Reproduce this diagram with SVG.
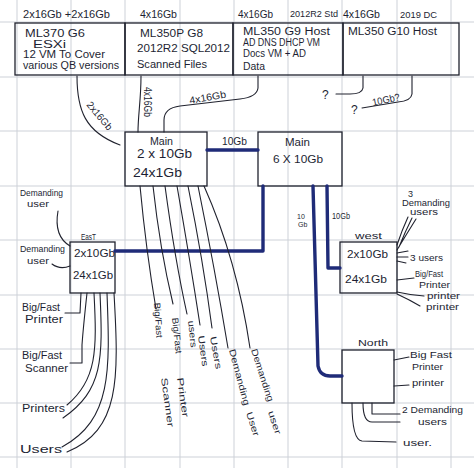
<svg xmlns="http://www.w3.org/2000/svg" width="474" height="468" viewBox="0 0 474 468">
<style>
.grid{stroke:#cdd1d8;stroke-width:1;fill:none}
.box{fill:none;stroke:#20222e;stroke-width:1.3}
.ln{fill:none;stroke:#20222e;stroke-width:1.1;stroke-linecap:round;stroke-linejoin:round}
.thick{fill:none;stroke:#1f2b78;stroke-width:3.4;stroke-linecap:round;stroke-linejoin:round}
text{font-family:"Liberation Sans",Arial,sans-serif;fill:#1d1f33}
.s9{font-size:9px}.s10{font-size:10px}.s11{font-size:11px}.s12{font-size:12px}
</style>
<rect width="474" height="468" fill="#ffffff"/>
<g id="grid" class="grid">
<path d="M17,0V468M71,0V468M125,0V468M180,0V468M234,0V468M288,0V468M342,0V468M397,0V468M451,0V468"/>
<path d="M0,22H474M0,77H474M0,131H474M0,186H474M0,240H474M0,295H474M0,349H474M0,403H474M0,457H474"/>
</g>

<g id="server-ml370">
<text class="s11" x="23" y="18" textLength="87" lengthAdjust="spacingAndGlyphs">2x16Gb +2x16Gb</text>
<rect class="box" x="15" y="23" width="110" height="52"/>
<text class="s11" x="25" y="37" textLength="60" lengthAdjust="spacingAndGlyphs">ML370 G6</text>
<text class="s11" x="33" y="48" textLength="33" lengthAdjust="spacingAndGlyphs">ESXi</text>
<text class="s10" x="23" y="58" textLength="82" lengthAdjust="spacingAndGlyphs">12 VM To Cover</text>
<text class="s10" x="23" y="69" textLength="96" lengthAdjust="spacingAndGlyphs">various QB versions</text>
</g>
<g id="server-ml350p">
<text class="s11" x="140" y="18" textLength="37" lengthAdjust="spacingAndGlyphs">4x16Gb</text>
<rect class="box" x="125" y="23" width="108" height="52"/>
<text class="s11" x="140" y="37" textLength="63" lengthAdjust="spacingAndGlyphs">ML350P G8</text>
<text class="s11" x="137" y="52" textLength="93" lengthAdjust="spacingAndGlyphs">2012R2 SQL2012</text>
<text class="s10" x="137" y="68" textLength="70" lengthAdjust="spacingAndGlyphs">Scanned Files</text>
</g>
<g id="server-ml350g9">
<text class="s11" x="238" y="18" textLength="35" lengthAdjust="spacingAndGlyphs">4x16Gb</text>
<text class="s9" x="290" y="17" textLength="48" lengthAdjust="spacingAndGlyphs">2012R2 Std</text>
<rect class="box" x="233" y="23" width="110" height="52"/>
<text class="s10" x="243" y="35" textLength="87" lengthAdjust="spacingAndGlyphs">ML350 G9 Host</text>
<text class="s10" x="243" y="46" textLength="77" lengthAdjust="spacingAndGlyphs">AD DNS DHCP VM</text>
<text class="s10" x="243" y="57" textLength="63" lengthAdjust="spacingAndGlyphs">Docs VM + AD</text>
<text class="s10" x="243" y="70" textLength="22" lengthAdjust="spacingAndGlyphs">Data</text>
</g>
<g id="server-ml350g10">
<text class="s11" x="343" y="18" textLength="37" lengthAdjust="spacingAndGlyphs">4x16Gb</text>
<text class="s9" x="400" y="18" textLength="37" lengthAdjust="spacingAndGlyphs">2019 DC</text>
<rect class="box" x="343" y="23" width="116" height="52"/>
<text class="s10" x="348" y="35" textLength="89" lengthAdjust="spacingAndGlyphs">ML350 G10 Host</text>
</g>

<g id="main-left">
<rect class="box" x="125" y="132" width="82" height="54"/>
<text class="s10" x="150" y="145" textLength="23" lengthAdjust="spacingAndGlyphs">Main</text>
<text class="s12" x="137" y="158" textLength="55" lengthAdjust="spacingAndGlyphs">2 x 10Gb</text>
<text class="s12" x="133" y="177" textLength="49" lengthAdjust="spacingAndGlyphs">24x1Gb</text>
</g>
<g id="main-right">
<rect class="box" x="258" y="132" width="84" height="54"/>
<text class="s10" x="285" y="146" textLength="25" lengthAdjust="spacingAndGlyphs">Main</text>
<text class="s11" x="273" y="163" textLength="50" lengthAdjust="spacingAndGlyphs">6 X 10Gb</text>
</g>
<g id="east">
<text class="s9" x="81" y="240" textLength="15" lengthAdjust="spacingAndGlyphs">EasT</text>
<rect class="box" x="70" y="242" width="45" height="51"/>
<text class="s11" x="74" y="257" textLength="41" lengthAdjust="spacingAndGlyphs">2x10Gb</text>
<text class="s11" x="73" y="279" textLength="40" lengthAdjust="spacingAndGlyphs">24x1Gb</text>
</g>
<g id="west">
<text class="s9" x="355" y="239" textLength="27" lengthAdjust="spacingAndGlyphs">west</text>
<rect class="box" x="340" y="242" width="57" height="51"/>
<text class="s11" x="347" y="258" textLength="41" lengthAdjust="spacingAndGlyphs">2x10Gb</text>
<text class="s11" x="345" y="283" textLength="42" lengthAdjust="spacingAndGlyphs">24x1Gb</text>
</g>
<g id="north">
<text class="s9" x="358" y="346" textLength="30" lengthAdjust="spacingAndGlyphs">North</text>
<rect class="box" x="342" y="350" width="52" height="53"/>
</g>

<g id="connectors">
<path class="thick" d="M207,150H258"/>
<path class="thick" d="M263,186V251H115"/>
<path class="thick" d="M327,186L328,268H340"/>
<path class="thick" d="M313,186L318,366Q320,376 330,376H342"/>
<path class="ln" d="M77,76C77,110 85,132 120,145"/>
<path class="ln" d="M141,76C141,100 138,115 138,132"/>
<path class="ln" d="M258,76V88Q257,97 240,99L180,106Q164,108 164,120V132"/>
<path class="ln" d="M363,76V88Q362,94 350,94H336"/>
<path class="ln" d="M412,76V94Q411,101 398,102L362,108"/>
<path class="ln" d="M140,186Q146,250 156,309"/>
<path class="ln" d="M153,186Q160,250 173,304"/>
<path class="ln" d="M165,186Q175,260 187,314"/>
<path class="ln" d="M177,186Q190,260 200,325"/>
<path class="ln" d="M188,186Q203,260 212,328"/>
<path class="ln" d="M198,186Q215,270 228,348"/>
<path class="ln" d="M204,186Q237,260 250,348"/>
<path class="ln" d="M58,211C55,228 60,240 70,246"/>
<path class="ln" d="M52,264Q60,270 70,266"/>
<path class="ln" d="M81,293L80,313H65"/>
<path class="ln" d="M87,293Q83,330 82,345V363H70"/>
<path class="ln" d="M94,293C97,350 97,380 67,405"/>
<path class="ln" d="M100,293C103,360 103,390 63,418"/>
<path class="ln" d="M107,293C110,370 112,420 62,447"/>
<path class="ln" d="M114,293C119,380 120,430 67,452"/>
<path class="ln" d="M397,245Q402,230 408,217M399,247Q405,232 412,218M397,250Q406,235 416,219"/>
<path class="ln" d="M397,253L408,251M397,257H408M397,261L406,263"/>
<path class="ln" d="M397,280L414,278"/>
<path class="ln" d="M397,292Q410,295 424,296M397,294Q410,300 420,306"/>
<path class="ln" d="M394,360L409,357"/>
<path class="ln" d="M394,386L409,385"/>
<path class="ln" d="M372,403V414H400"/>
<path class="ln" d="M363,403Q363,422 372,422H400"/>
<path class="ln" d="M352,403Q352,440 362,441L396,442"/>
</g>

<g id="labels">
<text class="s10" transform="translate(86,105) rotate(50)" textLength="34" lengthAdjust="spacingAndGlyphs">2x16Gb</text>
<text class="s10" transform="translate(144,87) rotate(90)" textLength="30" lengthAdjust="spacingAndGlyphs">4x16Gb</text>
<text class="s10" transform="translate(190,104) rotate(-10)" textLength="37" lengthAdjust="spacingAndGlyphs">4x16Gb</text>
<text class="s12" x="322" y="99">?</text>
<text class="s12" x="351" y="114">?</text>
<text class="s10" transform="translate(373,106) rotate(-12)" textLength="28" lengthAdjust="spacingAndGlyphs">10Gb?</text>
<text class="s10" x="222" y="145" textLength="25" lengthAdjust="spacingAndGlyphs">10Gb</text>
<text class="s9" x="332" y="219" textLength="18" lengthAdjust="spacingAndGlyphs">10Gb</text>
<text style="font-size:7px" x="297" y="219">10</text>
<text style="font-size:7px" x="298" y="227">Gb</text>

<text class="s9" x="20" y="196" textLength="43" lengthAdjust="spacingAndGlyphs">Demanding</text>
<text class="s9" x="27" y="207" textLength="22" lengthAdjust="spacingAndGlyphs">user</text>
<text class="s9" x="20" y="252" textLength="45" lengthAdjust="spacingAndGlyphs">Demanding</text>
<text class="s9" x="27" y="264" textLength="22" lengthAdjust="spacingAndGlyphs">user</text>
<text class="s10" x="22" y="311" textLength="38" lengthAdjust="spacingAndGlyphs">Big/Fast</text>
<text class="s10" x="25" y="323" textLength="38" lengthAdjust="spacingAndGlyphs">Printer</text>
<text class="s10" x="22" y="359" textLength="40" lengthAdjust="spacingAndGlyphs">Big/Fast</text>
<text class="s10" x="25" y="372" textLength="43" lengthAdjust="spacingAndGlyphs">Scanner</text>
<text class="s10" x="22" y="412" textLength="43" lengthAdjust="spacingAndGlyphs">Printers</text>
<text class="s11" x="20" y="453" textLength="42" lengthAdjust="spacingAndGlyphs">Users</text>

<text class="s9" transform="translate(154,303) rotate(86)" textLength="35" lengthAdjust="spacingAndGlyphs">Big/Fast</text>
<text class="s9" transform="translate(161,378) rotate(82)" textLength="50" lengthAdjust="spacingAndGlyphs">Scanner</text>
<text class="s9" transform="translate(172,318) rotate(84)" textLength="36" lengthAdjust="spacingAndGlyphs">Big/Fast</text>
<text class="s9" transform="translate(177,378) rotate(82)" textLength="40" lengthAdjust="spacingAndGlyphs">Printer</text>
<text class="s9" transform="translate(188,321) rotate(84)" textLength="27" lengthAdjust="spacingAndGlyphs">users</text>
<text class="s9" transform="translate(198,336) rotate(82)" textLength="31" lengthAdjust="spacingAndGlyphs">Users</text>
<text class="s9" transform="translate(210,337) rotate(80)" textLength="33" lengthAdjust="spacingAndGlyphs">Users</text>
<text class="s9" transform="translate(229,350) rotate(75)" textLength="58" lengthAdjust="spacingAndGlyphs">Demanding</text>
<text class="s9" transform="translate(246,413) rotate(72)" textLength="25" lengthAdjust="spacingAndGlyphs">User</text>
<text class="s9" transform="translate(251,350) rotate(72)" textLength="55" lengthAdjust="spacingAndGlyphs">Demanding</text>
<text class="s9" transform="translate(268,412) rotate(72)" textLength="24" lengthAdjust="spacingAndGlyphs">user</text>

<text class="s9" x="408" y="197">3</text>
<text class="s9" x="402" y="206" textLength="48" lengthAdjust="spacingAndGlyphs">Demanding</text>
<text class="s9" x="410" y="215" textLength="28" lengthAdjust="spacingAndGlyphs">users</text>
<text class="s9" x="410" y="261" textLength="33" lengthAdjust="spacingAndGlyphs">3 users</text>
<text class="s9" x="415" y="277" textLength="28" lengthAdjust="spacingAndGlyphs">Big/Fast</text>
<text class="s9" x="419" y="288" textLength="31" lengthAdjust="spacingAndGlyphs">Printer</text>
<text class="s9" x="427" y="299" textLength="33" lengthAdjust="spacingAndGlyphs">printer</text>
<text class="s9" x="426" y="310" textLength="33" lengthAdjust="spacingAndGlyphs">printer</text>

<text class="s9" x="410" y="358" textLength="42" lengthAdjust="spacingAndGlyphs">Big Fast</text>
<text class="s9" x="412" y="370" textLength="31" lengthAdjust="spacingAndGlyphs">Printer</text>
<text class="s9" x="412" y="386" textLength="32" lengthAdjust="spacingAndGlyphs">printer</text>
<text class="s9" x="402" y="413" textLength="61" lengthAdjust="spacingAndGlyphs">2 Demanding</text>
<text class="s9" x="418" y="425" textLength="29" lengthAdjust="spacingAndGlyphs">users</text>
<text class="s9" x="403" y="446" textLength="29" lengthAdjust="spacingAndGlyphs">user.</text>
</g>
</svg>
